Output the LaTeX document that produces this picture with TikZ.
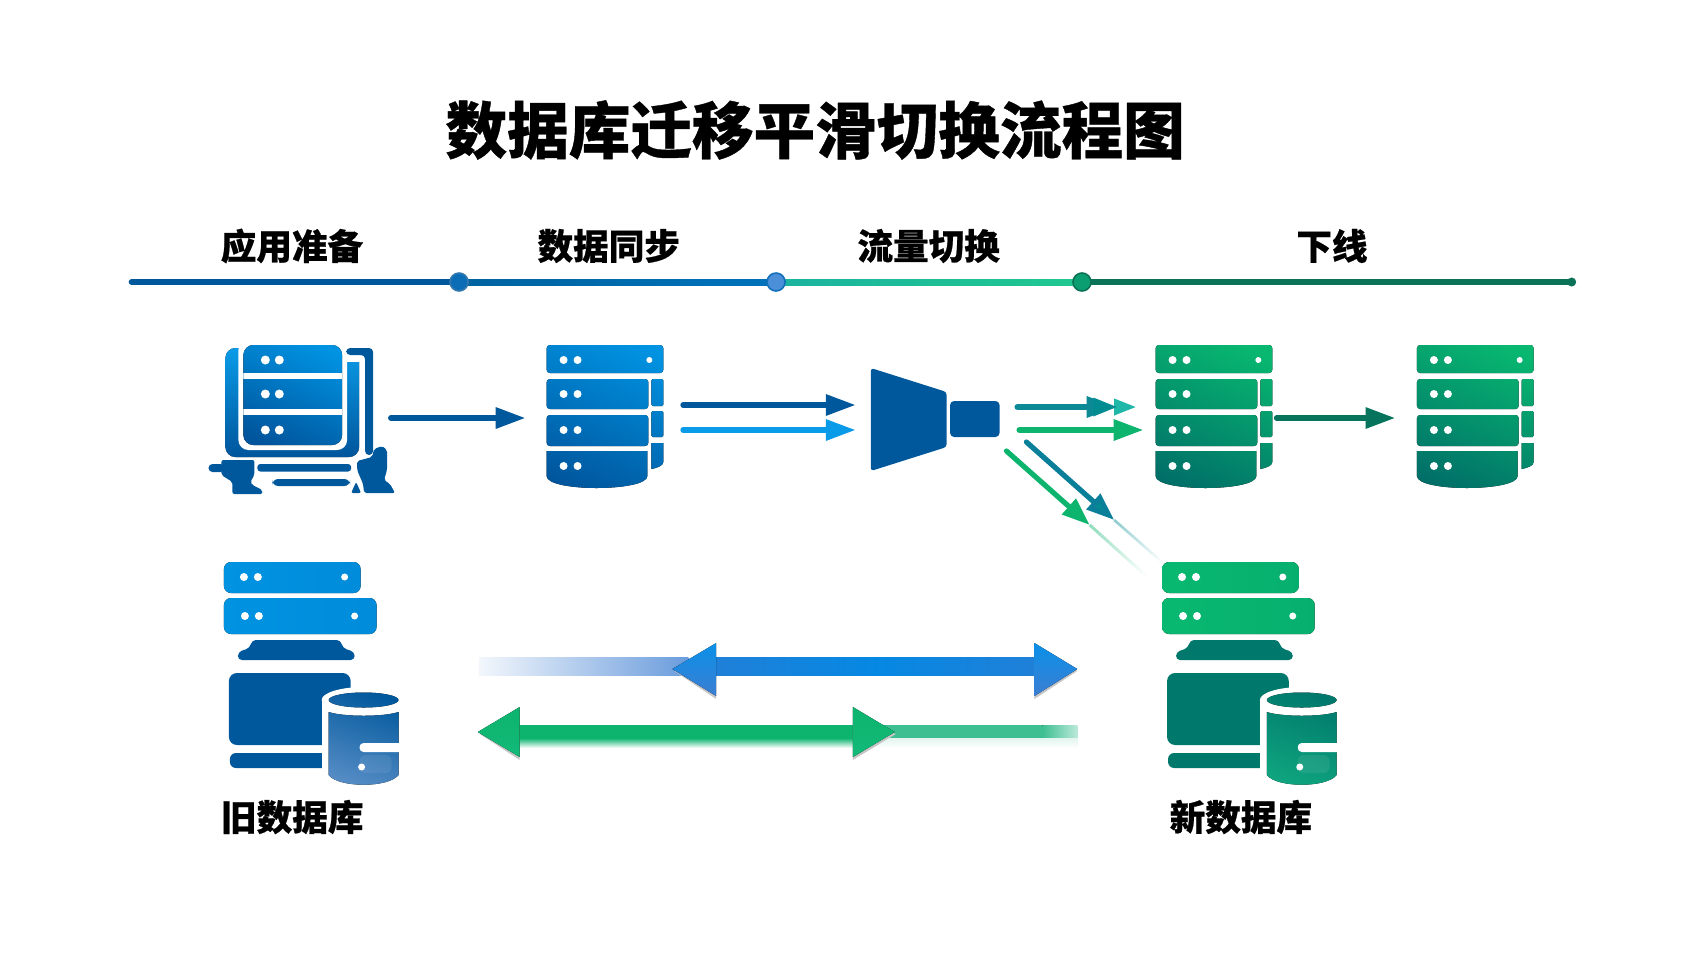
\documentclass[tikz,border=0pt]{standalone}
\usepackage{fontspec}
\usetikzlibrary{arrows.meta,calc}
\newfontfamily\cjkf{Noto Sans CJK SC}[BoldFeatures={FakeBold=0.6}]
\definecolor{bTop}{HTML}{0093E2}
\definecolor{bBot}{HTML}{00559C}
\definecolor{gTop}{HTML}{08B870}
\definecolor{gBot}{HTML}{006E68}
\definecolor{bDark}{HTML}{00589C}
\definecolor{gDark}{HTML}{00786C}
\definecolor{bLite}{HTML}{0A9BE8}
\definecolor{seg2a}{HTML}{00639F}
\definecolor{seg2b}{HTML}{0072BB}
\definecolor{seg3a}{HTML}{1BB3A0}
\definecolor{seg3b}{HTML}{20C88F}
\definecolor{seg4}{HTML}{0A7357}
\definecolor{dotA}{HTML}{0A6DB5}
\definecolor{dotB}{HTML}{4A8FD8}
\definecolor{dotBe}{HTML}{1270BB}
\definecolor{dotC}{HTML}{0A9E70}
\definecolor{tealA}{HTML}{0B8A96}
\definecolor{tealB}{HTML}{008C90}
\definecolor{tealC}{HTML}{1FB8A8}
\definecolor{greenA}{HTML}{0DB46E}
\definecolor{greenD}{HTML}{06745C}
\definecolor{tealS}{HTML}{0A7F9A}
\definecolor{dblA}{HTML}{0588E3}
\definecolor{dblB}{HTML}{2080D8}
\definecolor{dblT}{HTML}{0A90E8}
\definecolor{dblU}{HTML}{3C7ED2}
\definecolor{fadeB}{HTML}{6A9CDC}
\definecolor{fadeG}{HTML}{3DBF92}
\definecolor{cylBb}{HTML}{5C90C8}
\definecolor{cylGa}{HTML}{00786C}
\definecolor{cylGb}{HTML}{10A880}
\tikzset{
  x=0.49875pt,y=-0.5pt,
  title/.style={font=\cjkf\bfseries\fontsize{30.8pt}{34pt}\selectfont,text=black,inner sep=0pt},
  label/.style={font=\cjkf\bfseries\fontsize{17.8pt}{20pt}\selectfont,text=black,inner sep=0pt},
  tick/.style={circle,inner sep=0pt,minimum size=9pt,line width=0.8pt},
  flow/.style={line width=3pt,line cap=round,-{Triangle[length=15pt,width=10pt]}},
  slim/.style={line width=2.6pt,line cap=round,-{Triangle[length=14pt,width=10pt]}},
}
\newcommand\wdot[3]{\fill[white] (#1,#2) circle[radius=#3];}
% tower database: x, top colour, bottom colour
\newcommand\towerdb[3]{%
  \begin{scope}
    \clip[rounded corners=1.6pt] (#1,345) rectangle ++(117,28)
      (#1,379) rectangle ++(102,30)
      (#1,415) rectangle ++(102,31);
    \fill[top color=#2,bottom color=#3,shading angle=-25] (#1-15,335) rectangle (#1+132,500);
  \end{scope}
  \begin{scope}
    \clip[rounded corners=0.7pt] (#1+105,379) rectangle ++(12,27)
      (#1+105,411) rectangle ++(12,26);
    \fill[top color=#2,bottom color=#3,shading angle=-25] (#1-15,335) rectangle (#1+132,500);
  \end{scope}
  \begin{scope}
    \clip (#1,451) -- (#1+101,451) -- (#1+101,476) .. controls (#1+101,484) and (#1+75,488) .. (#1+50,488) .. controls (#1+25,488) and (#1,484) .. (#1,476) -- cycle
      (#1+105,443) -- (#1+117,443) -- (#1+117,462) .. controls (#1+117,466) and (#1+110,468) .. (#1+105,469) -- cycle;
    \fill[top color=#2,bottom color=#3,shading angle=-25] (#1-15,335) rectangle (#1+132,500);
  \end{scope}
  \foreach \yy in {360,394,430,466}{\wdot{#1+17}{\yy}{4}\wdot{#1+31}{\yy}{4}}
  \wdot{#1+103}{360}{3}
}
% monitor database: x, top, bottom, dark, cyl top, cyl bottom
\newcommand\deskdb[6]{%
  \fill[rounded corners=3.5pt,left color=#2,right color=#2!88!#3] (#1,562) rectangle ++(137,31);
  \fill[rounded corners=3.5pt,left color=#2,right color=#2!88!#3] (#1,598) rectangle ++(153,36);
  \wdot{#1+20}{577}{4}\wdot{#1+34}{577}{4}\wdot{#1+121}{577}{3.5}
  \wdot{#1+21}{616}{4}\wdot{#1+35}{616}{4}\wdot{#1+131}{616}{3.5}
  \fill[#4,rounded corners=2pt] (#1+14,660) -- (#1+14,652) -- (#1+26,648) -- (#1+28,640) -- (#1+117,640) -- (#1+119,648) -- (#1+131,652) -- (#1+131,660) -- cycle;
  \fill[#4,rounded corners=4pt] (#1+5,745) -- (#1+5,673) -- (#1+127,673) -- (#1+127,745) -- cycle;
  \fill[#4,rounded corners=3pt] (#1+6,753) -- (#1+110,753) -- (#1+110,768) -- (#1+6,768) -- cycle;
  \fill[white] (#1+140,700) ellipse[x radius=42,y radius=13];
  \fill[white] (#1+98,700) rectangle (#1+182,795);
  \begin{scope}
    \clip (#1+140,700) ellipse[x radius=35,y radius=7.5]
      (#1+105,712) .. controls (#1+120,717) and (#1+160,717) .. (#1+175,712) -- (#1+175,775) .. controls (#1+165,788) and (#1+115,788) .. (#1+105,775) -- cycle;
    \fill[top color=#5,bottom color=#6,shading angle=-20] (#1+95,690) rectangle (#1+185,795);
  \end{scope}
  \fill[white,rounded corners=2pt] (#1+136,743) rectangle (#1+182,752);
  \fill[white,opacity=.08,rounded corners=3pt] (#1+136,755) rectangle (#1+168,773);
  \wdot{#1+138}{767}{3.5}
}
\begin{document}
\begin{tikzpicture}
\useasboundingbox (0,0) rectangle (1700.25,960);
\fill[white] (0,0) rectangle (1700.25,960);
% ---- title and headings
\node[title] (ttl) at (817.2,130) {数据库迁移平滑切换流程图};
\node[label] (h1) at (292.7,246) {应用准备};
\node[label] (h2) at (610.3,246) {数据同步};
\node[label] (h3) at (931,246) {流量切换};
\node[label] (h4) at (1335.3,246) {下线};
\node[label] (oldl) at (293,817) {旧数据库};
\node[label] (newl) at (1244,817) {新数据库};
% ---- timeline
\coordinate (t0) at (132,282);
\coordinate (t1) at (460.2,282);
\coordinate (t2) at (778,282);
\coordinate (t3) at (1084.7,282);
\coordinate (t4) at (1575.6,282);
\draw[line width=3pt,line cap=round,color=bDark] (t0) -- (t1);
\fill[left color=seg2a,right color=seg2b] ($(t1)+(0,-3)$) rectangle ($(t2)+(0,3)$);
\fill[left color=seg3a,right color=seg3b] ($(t2)+(0,-3)$) rectangle ($(t3)+(0,3)$);
\draw[line width=3pt,line cap=round,color=seg4] (t3) -- (t4);
\node[tick,fill=dotA,draw=bDark!80] (n1) at (t1) {};
\node[tick,fill=dotB,draw=dotBe] (n2) at (t2) {};
\node[tick,fill=dotC,draw=seg4] (n3) at (t3) {};
\node[circle,inner sep=0pt,minimum size=4.5pt,fill=seg4] (n4) at (t4) {};
% ---- application icon
\fill[top color=bLite,bottom color=bBot,rounded corners=5pt] (226,348) rectangle (360,457);
\fill[white] (341,340) rectangle (363,362);
\fill[white,rounded corners=5pt] (239,340) rectangle (348,450);
\fill[bDark,rounded corners=2pt] (347,348) -- (374,348) -- (374,455) -- (366,455) -- (366,355) -- (347,355) -- cycle;
\begin{scope}
  \clip[rounded corners=5pt] (244,345) rectangle (343,445);
  \fill[top color=bTop,bottom color=bBot,shading angle=-25] (236,340) rectangle (351,450);
  \fill[white] (241,373) rectangle (346,379);
  \fill[white] (241,409) rectangle (346,414.5);
\end{scope}
\foreach \yy in {360,394,430}{\wdot{266}{\yy}{4.5}\wdot{280}{\yy}{4.5}}
\fill[white] (226,459) rectangle (401,500);
\fill[bDark,rounded corners=1.5pt] (258,464) rectangle (352,471.5);
\fill[bDark,rounded corners=3pt] (273,479) rectangle (351,486);
\fill[bDark,rounded corners=1pt] (222,460) -- (255,460) -- (255,475) -- (251,482) -- (253,485) -- (263,490) -- (263,494) -- (233,494) -- (233,482) -- (222,475) -- cycle;
\fill[bDark,rounded corners=2pt] (209,464) rectangle (225,472);
\fill[bDark,rounded corners=1pt] (358,461) -- (373,457) -- (375,449) -- (383,446) -- (388,450) -- (388,470) -- (385,480) -- (391,484) -- (396,493) -- (365,493) -- (364,484) -- (358,470) -- cycle;
\fill[bDark,rounded corners=1pt] (352,493) -- (357,482) -- (362,493) -- cycle;
% ---- tower databases
\towerdb{548}{bTop}{bBot}
\towerdb{1158.5}{gTop}{gBot}
\towerdb{1420.5}{gTop}{gBot}
% ---- router
\fill[bDark,rounded corners=1.5pt] (873,368) -- (949,392) -- (949,447) -- (873,471) -- cycle;
\fill[bDark,rounded corners=2pt] (952.5,401) rectangle (1002,437);
% ---- desk databases
\deskdb{224.5}{bTop}{bBot}{bDark}{bDark}{cylBb}
\deskdb{1165}{gTop}{gBot}{gDark}{cylGa}{cylGb}
% ---- connectors, top row
\coordinate (a1s) at (392,418); \coordinate (a1e) at (527,418);
\draw[flow,bDark] (a1s) -- (a1e);
\coordinate (a2s) at (685,405); \coordinate (a2e) at (858,405);
\draw[flow,bDark] (a2s) -- (a2e);
\coordinate (a3s) at (685,430); \coordinate (a3e) at (858,430);
\draw[flow,bLite] (a3s) -- (a3e);
\coordinate (a4s) at (1020,407); \coordinate (a4e) at (1119.5,407); \coordinate (a4f) at (1138.5,407);
\fill[tealC] (1117,398.5) -- (a4f) -- (1117,415.5) -- cycle;
\draw[flow,tealA] (a4s) -- (a4e);
\fill[tealB] (1096,397.5) -- (a4e) -- (1096,416.5) -- cycle;
\coordinate (a5s) at (1022,430); \coordinate (a5e) at (1146.5,430);
\draw[flow,greenA] (a5s) -- (a5e);
\coordinate (a6s) at (1280,418); \coordinate (a6e) at (1399,418);
\draw[flow,greenD] (a6s) -- (a6e);
% ---- diagonals
\coordinate (d1s) at (1029,442); \coordinate (d1e) at (1117,520); \coordinate (d1f) at (1164.6,561.7);
\coordinate (d2s) at (1009,451); \coordinate (d2e) at (1092.5,525); \coordinate (d2f) at (1148,575);
\foreach \i in {0,...,19}{
  \pgfmathsetmacro\ta{\i/20}\pgfmathsetmacro\tb{(\i+1)/20}\pgfmathsetmacro\pc{45*(1-\i/20)}
  \draw[line width=1.3pt,tealB!\pc!white] ($(d1e)!\ta!(d1f)$) -- ($(d1e)!\tb!(d1f)$);
  \draw[line width=1.5pt,greenA!\pc!white] ($(d2e)!\ta!(d2f)$) -- ($(d2e)!\tb!(d2f)$);
}
\draw[slim,-{Triangle[length=14pt,width=10pt,fill=tealB]},tealS] (d1s) -- (d1e);
\draw[slim,greenA] (d2s) -- (d2e);
% ---- sync arrows
\coordinate (u1s) at (480,666); \coordinate (u1a) at (674,669); \coordinate (u1b) at (1080,669);
\fill[left color=fadeB!8!white,right color=fadeB] (u1s |- 0,657) rectangle (690,675);
\fill[gray!45] (718,646) -- (676,671) -- (718,699) -- cycle;
\fill[gray!45] (1037,646) -- (1080,671) -- (1037,699) -- cycle;
\fill[left color=dblB,right color=dblB,middle color=dblA] (718,657) rectangle (1037,675);
\fill[top color=dblT,bottom color=dblU] (u1a) -- (718,643) -- (718,696) -- cycle;
\fill[top color=dblT,bottom color=dblU] (u1b) -- (1037,643) -- (1037,696) -- cycle;
\coordinate (u2a) at (479,732); \coordinate (u2b) at (897,732); \coordinate (u2e) at (1080,732);
\fill[fadeG] (880,725) rectangle (1045,738);
\fill[left color=fadeG,right color=fadeG!35!white] (1045,725) rectangle (u2e |- 0,738);
\fill[top color=fadeG!15!white,bottom color=white] (855,738) rectangle (1080,748);
\fill[greenA] (510,725) rectangle (860,738);
\fill[top color=greenA,bottom color=white] (510,738) rectangle (860,748);
\fill[gray!45] (521,709) -- (481,734) -- (521,760) -- cycle;
\fill[gray!45] (855,709) -- (898,734) -- (855,760) -- cycle;
\fill[top color=greenA,bottom color=greenA!70!seg3b] (u2a) -- (521,707) -- (521,757) -- cycle;
\fill[top color=greenA,bottom color=greenA!70!seg3b] (u2b) -- (855,707) -- (855,757) -- cycle;
\end{tikzpicture}
\end{document}
